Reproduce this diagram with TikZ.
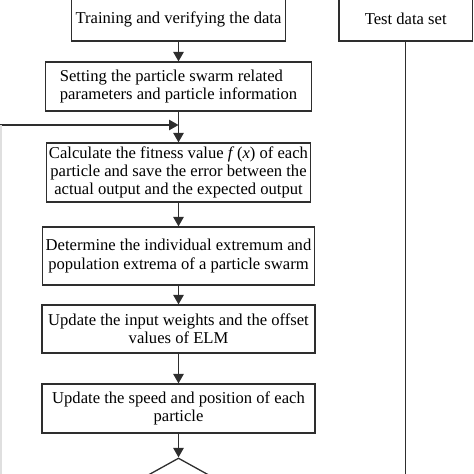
\documentclass[tikz,border=0pt]{standalone}
\usepackage{fontspec}
\setmainfont{Liberation Serif}
\usetikzlibrary{arrows.meta,shapes.geometric}
\definecolor{ln}{HTML}{2E2E2E}
\tikzset{
  box/.style={draw=ln, line width=1.3pt, rectangle, inner sep=0pt, align=center,
    font=\fontsize{16.6}{18.2}\selectfont, text=black},
  arr/.style={draw=ln, line width=1.3pt, -{Triangle[width=10.5pt,length=9.5pt]}},
  ln/.style={draw=ln, line width=1.3pt},
}
\begin{document}
\begin{tikzpicture}[x=1pt,y=-1pt]
\useasboundingbox (0,0) rectangle (474,474);
\clip (0,0) rectangle (474,474);
\node[box, minimum width=214, minimum height=44] (b1) at (178.5,19) {Training and verifying the data};
\node[box, minimum width=133.5, minimum height=44] (test) at (405.75,19) {Test data set};
\node[box, minimum width=266, minimum height=49] (b2) at (178.5,86.5)
  {\begin{tabular}{@{}l@{}}Setting the particle swarm related\\parameters and particle information\end{tabular}};
\node[box, minimum width=264, minimum height=59] (b3) at (178.5,172.5)
  {Calculate the fitness value \textit{f}\,(\textit{x}) of each\\particle and save the error between the\\actual output and the expected output};
\node[box, minimum width=272, minimum height=58] (b4) at (178.5,256)
  {Determine the individual extremum and\\population extrema of a particle swarm};
\node[box, minimum width=273, minimum height=48] (b5) at (178.5,329)
  {Update the input weights and the offset\\values of ELM};
\node[box, minimum width=273, minimum height=49] (b6) at (178.5,408.5)
  {Update the speed and position of each\\particle};
\node[draw=ln, line width=1.3pt, diamond, inner sep=0pt, minimum width=220, minimum height=122] (d) at (178.5,519) {};
\coordinate (j) at (178.5,125);
\coordinate (fb) at (0,125);
\coordinate (fbl) at (1,480);
\coordinate (te) at (405.75,480);
\draw[arr] (b1.south) -- (b2.north);
\draw[ln] (b2.south) -- (j);
\draw[arr] (j) -- (b3.north);
\draw[arr] (fb) -- (j);
\draw[gray!25, line width=2pt] (1,125) -- (fbl);
\draw[arr] (b3.south) -- (b4.north);
\draw[arr] (b4.south) -- (b5.north);
\draw[arr] (b5.south) -- (b6.north);
\draw[arr] (b6.south) -- (d.north);
\draw[ln] (test.south) -- (te);
\end{tikzpicture}
\end{document}
